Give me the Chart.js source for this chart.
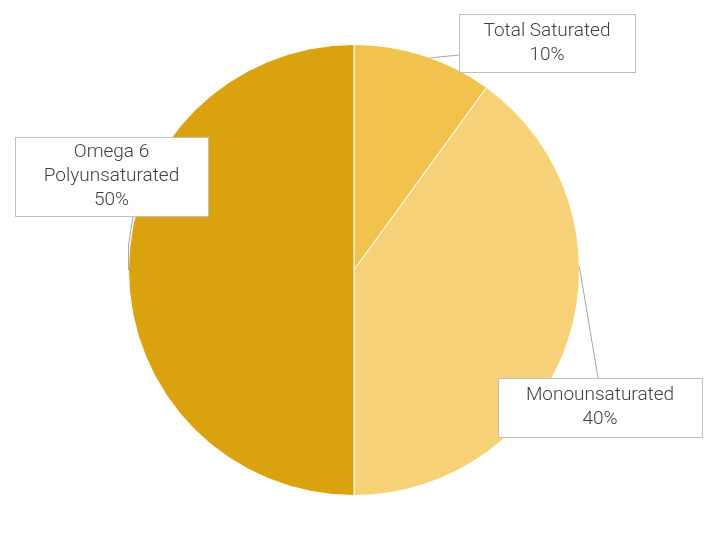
<!DOCTYPE html>
<html>
<head>
<meta charset="utf-8">
<script src="https://cdn.jsdelivr.net/npm/chart.js@4"></script>
<style>
  html, body { margin: 0; padding: 0; background: #fff; }
  #wrap { width: 707px; height: 540px; }
</style>
</head>
<body>
<div id="wrap"><canvas id="pie"></canvas></div>
<script>
// ===== Data =====
const categories = ['Total Saturated', 'Monounsaturated', 'Omega 6 Polyunsaturated'];
const shares = [10, 40, 50];
const sliceColors = ['#F2C34C', '#F6D178', '#D9A20E'];
// label lines as shown in the callouts
const calloutLines = [
  ['Total Saturated', '10%'],
  ['Monounsaturated', '40%'],
  ['Omega 6', 'Polyunsaturated', '50%'],
];

// ===== Callout boxes (layout only) =====
const calloutBoxes = [
  { x: 459, y: 14, w: 176, h: 58, anchor: [459, 55], fromFrac: 0.5 },
  { x: 498, y: 378, w: 204, h: 59, anchor: [598, 378], fromFrac: 0.42 },
  { x: 15, y: 137, w: 193, h: 79, anchor: [133, 216], fromFrac: 0.5 },
];

const calloutPlugin = {
  id: 'callouts',
  afterDatasetsDraw(chart) {
    const ctx = chart.ctx;
    const arcs = chart.getDatasetMeta(0).data;
    ctx.save();
    ctx.font = '300 19px Roboto, "Open Sans", sans-serif';
    ctx.textAlign = 'center';
    ctx.textBaseline = 'middle';
    arcs.forEach((arc, i) => {
      const b = calloutBoxes[i];
      // point on arc edge at some fraction through the slice
      let a;
      if (i === 0) a = arc.startAngle + (arc.endAngle - arc.startAngle) * 0.55;
      else if (i === 1) a = arc.startAngle + (arc.endAngle - arc.startAngle) * 0.37;
      else a = arc.startAngle + (arc.endAngle - arc.startAngle) * 0.5;
      const px = arc.x + Math.cos(a) * arc.outerRadius;
      const py = arc.y + Math.sin(a) * arc.outerRadius;
      ctx.strokeStyle = '#a6a6a6';
      ctx.lineWidth = 1;
      ctx.beginPath();
      if (i === 0) {
        ctx.moveTo(px, py);
        ctx.lineTo(b.anchor[0], b.anchor[1]);
      } else if (i === 1) {
        ctx.moveTo(px, py);
        ctx.lineTo(b.anchor[0], b.anchor[1]);
      } else {
        ctx.moveTo(px, py);
        ctx.lineTo(px, py - 25);
        ctx.lineTo(b.anchor[0], b.anchor[1]);
      }
      ctx.stroke();
      ctx.fillStyle = '#ffffff';
      ctx.fillRect(b.x, b.y, b.w, b.h);
      ctx.strokeStyle = '#bfbfbf';
      ctx.strokeRect(b.x + 0.5, b.y + 0.5, b.w, b.h);
      ctx.fillStyle = '#404040';
      const lines = calloutLines[i];
      const lh = 24;
      const top = b.y + b.h / 2 - (lines.length - 1) * lh / 2;
      lines.forEach((t, k) => ctx.fillText(t, b.x + b.w / 2, top + k * lh));
    });
    ctx.restore();
  }
};

// ===== Boot =====
new Chart(document.getElementById('pie'), {
  type: 'pie',
  data: {
    labels: categories,
    datasets: [{
      data: shares,
      backgroundColor: sliceColors,
      borderColor: '#ffffff',
      borderWidth: 1,
    }]
  },
  options: {
    responsive: true,
    maintainAspectRatio: false,
    animation: false,
    layout: { padding: { left: 128, right: 127, top: 44, bottom: 44 } },
    plugins: { legend: { display: false }, tooltip: { enabled: false } },
  },
  plugins: [calloutPlugin],
});
</script>
</body>
</html>
